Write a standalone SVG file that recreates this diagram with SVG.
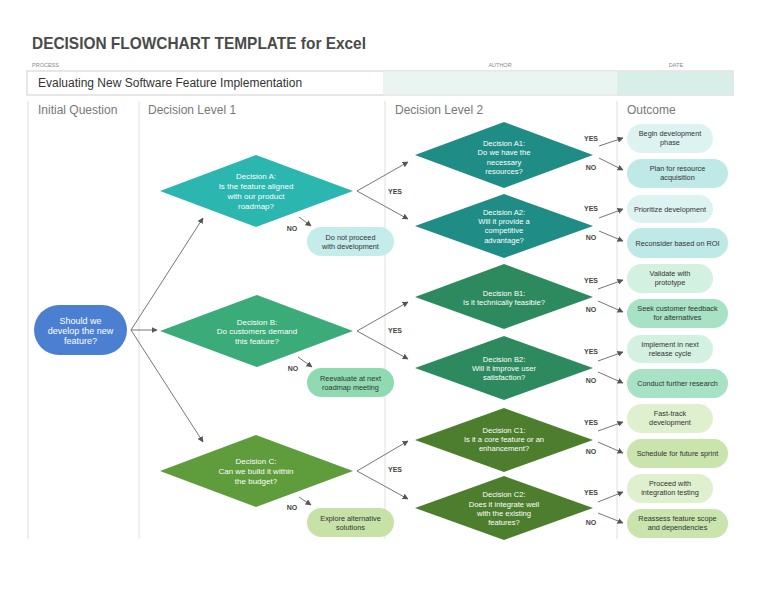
<svg xmlns="http://www.w3.org/2000/svg" width="768" height="594" viewBox="0 0 768 594">
<defs>
<marker id="ah" viewBox="0 0 10 10" refX="9" refY="5" markerWidth="6" markerHeight="6" markerUnits="userSpaceOnUse" orient="auto">
<path d="M0,0 L10,5 L0,10 z" fill="#555"/>
</marker>
</defs>
<style>
text{font-family:"Liberation Sans",Arial,sans-serif}
.title{font-size:16.5px;font-weight:bold;fill:#4a4a4a}
.lbl{font-size:5.5px;fill:#888}
.proc{font-size:12px;fill:#333}
.col{font-size:12px;fill:#777}
.grid{stroke:#e0e0e0;stroke-width:1}
.dt{font-size:8px;fill:#fff;text-anchor:middle}
.dt2{font-size:7.6px;fill:#fff;text-anchor:middle}
.ot{font-size:7.3px;fill:#333;text-anchor:middle}
.yn{font-size:7px;font-weight:bold;fill:#444;text-anchor:middle}
.con{stroke:#666;stroke-width:0.9;fill:none;marker-end:url(#ah)}
</style>
<rect width="768" height="594" fill="#fff"/>
<text class="title" x="32" y="49" textLength="334" lengthAdjust="spacingAndGlyphs">DECISION FLOWCHART TEMPLATE for Excel</text>
<text class="lbl" x="32" y="67">PROCESS</text>
<text class="lbl" x="500" y="67" text-anchor="middle">AUTHOR</text>
<text class="lbl" x="676" y="67" text-anchor="middle">DATE</text>
<rect x="27" y="71" width="706" height="24" fill="#fff" stroke="#cfcfcf"/>
<rect x="383" y="71.5" width="234" height="23" fill="#eaf5f2"/>
<rect x="617" y="71.5" width="115.5" height="23" fill="#d8eee8"/>
<text class="proc" x="38" y="87">Evaluating New Software Feature Implementation</text>
<g id="grid">
<line class="grid" x1="28" y1="101" x2="28" y2="539"/>
<line class="grid" x1="139" y1="101" x2="139" y2="539"/>
<line class="grid" x1="385" y1="101" x2="385" y2="539"/>
<line class="grid" x1="617" y1="101" x2="617" y2="539"/>
</g>
<text class="col" x="38" y="114">Initial Question</text>
<text class="col" x="148" y="114">Decision Level 1</text>
<text class="col" x="395" y="114">Decision Level 2</text>
<text class="col" x="627" y="114">Outcome</text>

<g id="connectors">
<path class="con" d="M131,330 L203,218"/>
<path class="con" d="M131,330 L157,330"/>
<path class="con" d="M131,330 L203,442"/>
<path class="con" d="M357,191 L408,162"/>
<path class="con" d="M357,191 L408,219"/>
<path class="con" d="M357,331 L408,302"/>
<path class="con" d="M357,331 L408,359"/>
<path class="con" d="M357,471 L408,441"/>
<path class="con" d="M357,471 L408,499"/>
<path class="con" d="M299,217 L311,226"/>
<path class="con" d="M298,357 L312,367"/>
<path class="con" d="M299,497 L311,505"/>
<path class="con" d="M599,146 L623,138"/>
<path class="con" d="M599,158 L623,170"/>
<path class="con" d="M599,218 L623,209"/>
<path class="con" d="M599,231 L623,241"/>
<path class="con" d="M598,289 L623,280"/>
<path class="con" d="M598,301 L623,312"/>
<path class="con" d="M598,361 L623,352"/>
<path class="con" d="M598,372 L623,383"/>
<path class="con" d="M598,431 L623,422"/>
<path class="con" d="M598,442 L623,453"/>
<path class="con" d="M598,502 L623,492"/>
<path class="con" d="M598,513 L623,523"/>
<text class="yn" x="395" y="194">YES</text>
<text class="yn" x="395" y="333">YES</text>
<text class="yn" x="395" y="472">YES</text>
<text class="yn" x="292" y="231">NO</text>
<text class="yn" x="293" y="371">NO</text>
<text class="yn" x="292" y="510">NO</text>
<text class="yn" x="591" y="141">YES</text>
<text class="yn" x="591" y="170">NO</text>
<text class="yn" x="591" y="211">YES</text>
<text class="yn" x="591" y="240">NO</text>
<text class="yn" x="591" y="283">YES</text>
<text class="yn" x="591" y="312">NO</text>
<text class="yn" x="591" y="354">YES</text>
<text class="yn" x="591" y="383">NO</text>
<text class="yn" x="591" y="425">YES</text>
<text class="yn" x="591" y="454">NO</text>
<text class="yn" x="591" y="495">YES</text>
<text class="yn" x="591" y="525">NO</text>
</g>

<g id="start">
<rect x="34" y="305" width="93" height="50" rx="25" fill="#4b7fd1"/>
<text class="dt" style="font-size:9px" x="80.5" y="324">Should we</text>
<text class="dt" style="font-size:9px" x="80.5" y="334">develop the new</text>
<text class="dt" style="font-size:9px" x="80.5" y="344">feature?</text>
</g>

<g id="decisionA">
<polygon points="160,191 256,155 353,191 256,227" fill="#2bb6b0"/>
<text class="dt" x="256" y="179">Decision A:</text>
<text class="dt" x="256" y="189">Is the feature aligned</text>
<text class="dt" x="256" y="199">with our product</text>
<text class="dt" x="256" y="209">roadmap?</text>
</g>
<g id="noA">
<rect x="307" y="227" width="87" height="29" rx="14.5" fill="#c3ecea"/>
<text class="ot" x="350.5" y="239.5">Do not proceed</text>
<text class="ot" x="350.5" y="248.5">with development</text>
</g>

<g id="decisionB">
<polygon points="160,331 257,295 353,331 257,367" fill="#3aab79"/>
<text class="dt" x="257" y="325">Decision B:</text>
<text class="dt" x="257" y="334">Do customers demand</text>
<text class="dt" x="257" y="344">this feature?</text>
</g>
<g id="noB">
<rect x="307" y="368" width="87" height="29" rx="14.5" fill="#8fdab0"/>
<text class="ot" x="350.5" y="380.5">Reevaluate at next</text>
<text class="ot" x="350.5" y="389.5">roadmap meeting</text>
</g>

<g id="decisionC">
<polygon points="160,471 256,435 353,471 256,507" fill="#5e9c3c"/>
<text class="dt" x="256" y="464">Decision C:</text>
<text class="dt" x="256" y="474">Can we build it within</text>
<text class="dt" x="256" y="484">the budget?</text>
</g>
<g id="noC">
<rect x="307" y="508" width="87" height="29" rx="14.5" fill="#c6e2a6"/>
<text class="ot" x="350.5" y="520.5">Explore alternative</text>
<text class="ot" x="350.5" y="529.5">solutions</text>
</g>

<g id="decisionA1">
<polygon points="415,155 504,122 593,155 504,188" fill="#1f8d86"/>
<text class="dt2" x="504" y="146">Decision A1:</text>
<text class="dt2" x="504" y="155">Do we have the</text>
<text class="dt2" x="504" y="165">necessary</text>
<text class="dt2" x="504" y="174">resources?</text>
</g>
<g id="decisionA2">
<polygon points="415,226 504,194 593,226 504,258" fill="#1f8d86"/>
<text class="dt2" x="504" y="215">Decision A2:</text>
<text class="dt2" x="504" y="224">Will it provide a</text>
<text class="dt2" x="504" y="233">competitive</text>
<text class="dt2" x="504" y="243">advantage?</text>
</g>
<g id="decisionB1">
<polygon points="415,297 504,264 593,297 504,329" fill="#2d8a5f"/>
<text class="dt2" x="504" y="296">Decision B1:</text>
<text class="dt2" x="504" y="305">Is it technically feasible?</text>
</g>
<g id="decisionB2">
<polygon points="415,368 504,336 593,368 504,400" fill="#2d8a5f"/>
<text class="dt2" x="504" y="362">Decision B2:</text>
<text class="dt2" x="504" y="371">Will it improve user</text>
<text class="dt2" x="504" y="380">satisfaction?</text>
</g>
<g id="decisionC1">
<polygon points="415,440 504,408 593,440 504,472" fill="#4d7e2d"/>
<text class="dt2" x="504" y="433">Decision C1:</text>
<text class="dt2" x="504" y="442">Is it a core feature or an</text>
<text class="dt2" x="504" y="451">enhancement?</text>
</g>
<g id="decisionC2">
<polygon points="415,508 504,476 593,508 504,540" fill="#4d7e2d"/>
<text class="dt2" x="504" y="497">Decision C2:</text>
<text class="dt2" x="504" y="507">Does it integrate well</text>
<text class="dt2" x="504" y="516">with the existing</text>
<text class="dt2" x="504" y="525">features?</text>
</g>

<g id="outA1yes">
<rect x="627" y="124" width="86" height="29" rx="14.5" fill="#ddf3f1"/>
<text class="ot" x="670" y="136">Begin development</text>
<text class="ot" x="670" y="145">phase</text>
</g>
<g id="outA1no">
<rect x="627" y="159" width="101" height="29" rx="14.5" fill="#bfe9e6"/>
<text class="ot" x="677.5" y="171">Plan for resource</text>
<text class="ot" x="677.5" y="180">acquisition</text>
</g>
<g id="outA2yes">
<rect x="627" y="195" width="86" height="28" rx="14" fill="#ddf3f1"/>
<text class="ot" x="670" y="211.5">Prioritize development</text>
</g>
<g id="outA2no">
<rect x="627" y="228" width="101" height="30" rx="15" fill="#bfe9e6"/>
<text class="ot" x="677.5" y="245.5">Reconsider based on ROI</text>
</g>
<g id="outB1yes">
<rect x="627" y="264" width="86" height="29" rx="14.5" fill="#d3f1e1"/>
<text class="ot" x="670" y="276">Validate with</text>
<text class="ot" x="670" y="285">prototype</text>
</g>
<g id="outB1no">
<rect x="627" y="299" width="101" height="29" rx="14.5" fill="#a6e2c3"/>
<text class="ot" x="677.5" y="311">Seek customer feedback</text>
<text class="ot" x="677.5" y="320">for alternatives</text>
</g>
<g id="outB2yes">
<rect x="627" y="335" width="86" height="28" rx="14" fill="#d3f1e1"/>
<text class="ot" x="670" y="346.5">Implement in next</text>
<text class="ot" x="670" y="355.5">release cycle</text>
</g>
<g id="outB2no">
<rect x="627" y="369" width="101" height="29" rx="14.5" fill="#a6e2c3"/>
<text class="ot" x="677.5" y="386">Conduct further research</text>
</g>
<g id="outC1yes">
<rect x="627" y="404" width="86" height="29" rx="14.5" fill="#dff0cf"/>
<text class="ot" x="670" y="416">Fast-track</text>
<text class="ot" x="670" y="425">development</text>
</g>
<g id="outC1no">
<rect x="627" y="439" width="101" height="29" rx="14.5" fill="#c9e4ad"/>
<text class="ot" x="677.5" y="456">Schedule for future sprint</text>
</g>
<g id="outC2yes">
<rect x="627" y="474" width="86" height="29" rx="14.5" fill="#dff0cf"/>
<text class="ot" x="670" y="486">Proceed with</text>
<text class="ot" x="670" y="495">integration testing</text>
</g>
<g id="outC2no">
<rect x="627" y="509" width="101" height="29" rx="14.5" fill="#c9e4ad"/>
<text class="ot" x="677.5" y="521">Reassess feature scope</text>
<text class="ot" x="677.5" y="530">and dependencies</text>
</g>
</svg>
